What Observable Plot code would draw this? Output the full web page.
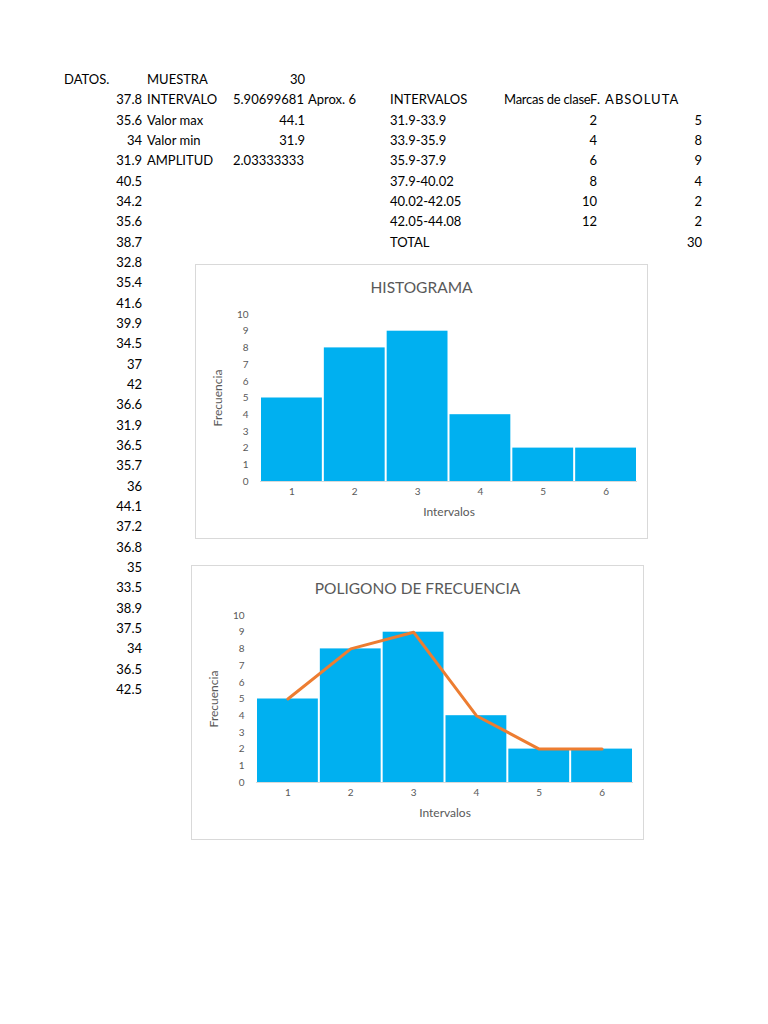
<!DOCTYPE html>
<html>
<head>
<meta charset="utf-8">
<script src="https://cdn.jsdelivr.net/npm/d3@7"></script>
<script src="https://cdn.jsdelivr.net/npm/@observablehq/plot@0.6"></script>
<style>
  html, body { margin: 0; padding: 0; background: #ffffff; }
  body { width: 768px; height: 1024px; position: relative; font-family: "Lato", sans-serif; color: #000; }
  .cell { position: absolute; font-size: 13px; line-height: 20px; white-space: nowrap; }
  .r { text-align: right; }
  .box { position: absolute; width: 453px; height: 275px; border: 1px solid #d9d9d9; box-sizing: border-box; background: #fff; }
  .box .title { position: absolute; left: 0; right: 0; top: 13px; text-align: center; font-size: 15.5px; color: #595959; font-family: "Lato", sans-serif; }
  .box svg { position: absolute; left: -1px; top: 29px; max-width: none !important; }
</style>
</head>
<body>
<div id="sheet"></div>
<script>
// Raw sample (column DATOS.)
const datos = [37.8, 35.6, 34, 31.9, 40.5, 34.2, 35.6, 38.7, 32.8, 35.4, 41.6, 39.9, 34.5, 37, 42,
  36.6, 31.9, 36.5, 35.7, 36, 44.1, 37.2, 36.8, 35, 33.5, 38.9, 37.5, 34, 36.5, 42.5];

// Summary block
const resumenEtiquetas = ["INTERVALO", "Valor max", "Valor min", "AMPLITUD"];
const resumenValores = ["5.90699681", "44.1", "31.9", "2.03333333"];
const muestra = 30;

// Frequency table
const intervalos = ["31.9-33.9", "33.9-35.9", "35.9-37.9", "37.9-40.02", "40.02-42.05", "42.05-44.08"];
const marcas = [2, 4, 6, 8, 10, 12];
const frecuencias = [5, 8, 9, 4, 2, 2];
const categorias = [1, 2, 3, 4, 5, 6];
const ticksY = [0, 1, 2, 3, 4, 5, 6, 7, 8, 9, 10];

const tabla = categorias.map((c, i) => ({categoria: c, frecuencia: frecuencias[i]}));

// ---- spreadsheet cells ----
const sheet = document.getElementById("sheet");
const ROW0 = 79, ROWH = 20.33;
function cell(text, row, x, align, spacing) {
  const d = document.createElement("div");
  d.className = "cell" + (align === "right" ? " r" : "");
  d.textContent = text;
  const top = ROW0 + row * ROWH - 10;
  d.style.top = top + "px";
  if (spacing) d.style.letterSpacing = spacing + "px";
  if (align === "right") { d.style.right = (768 - x) + "px"; }
  else { d.style.left = x + "px"; }
  sheet.appendChild(d);
}

cell("DATOS.", 0, 64);
cell("MUESTRA", 0, 147);
cell(String(muestra), 0, 305, "right");
datos.forEach((v, i) => cell(String(v), i + 1, 142, "right"));
resumenEtiquetas.forEach((t, i) => cell(t, i + 1, 147));
resumenValores.forEach((t, i) => {
  if (i === 0 || i === 3) cell(t, i + 1, 233);
  else cell(t, i + 1, 305, "right");
});
cell("Aprox. 6", 1, 308);

cell("INTERVALOS", 1, 390);
cell("Marcas de clase", 1, 504, null, -0.25);
cell("F. ABSOLUTA", 1, 590, null, 1.0);
intervalos.forEach((t, i) => cell(t, i + 2, 390));
marcas.forEach((m, i) => cell(String(m), i + 2, 597, "right"));
frecuencias.forEach((f, i) => cell(String(f), i + 2, 702, "right"));
cell("TOTAL", 8, 390);
cell(String(d3.sum(frecuencias)), 8, 702, "right");

// ---- charts ----
function grafico(conLinea) {
  const svg = Plot.plot({
    width: 453,
    height: 245,
    marginTop: 20,
    marginLeft: 65,
    marginRight: 11,
    marginBottom: 58,
    style: {fontFamily: "Lato, sans-serif", fontSize: "10px", color: "#595959", background: "transparent", overflow: "visible"},
    x: {type: "band", domain: categorias, padding: 0, round: false, label: "Intervalos", labelAnchor: "center", labelOffset: 34, tickSize: 0, tickPadding: 6, labelArrow: "none"},
    y: {domain: [0, 10], ticks: ticksY, label: "Frecuencia", labelAnchor: "center", labelOffset: 47, tickSize: 0, tickPadding: 12, labelArrow: "none"},
    marks: [
      Plot.ruleY([0], {stroke: "#d9d9d9"}),
      Plot.barY(tabla, {x: "categoria", y: "frecuencia", fill: "#00b0f0", insetLeft: 1, insetRight: 1}),
      conLinea ? Plot.lineY(tabla, {x: "categoria", y: "frecuencia", stroke: "#ed7d31", strokeWidth: 3}) : null
    ]
  });
  svg.querySelectorAll("text").forEach(n => n.setAttribute("fill", "#595959"));
  svg.querySelectorAll('[aria-label="x-axis label"], [aria-label="y-axis label"]').forEach(g => g.setAttribute("font-size", "12px"));
  return svg;
}

function caja(titulo, left, top, conLinea) {
  const b = document.createElement("div");
  b.className = "box";
  b.style.left = left + "px";
  b.style.top = top + "px";
  const t = document.createElement("div");
  t.className = "title";
  t.textContent = titulo;
  b.appendChild(t);
  b.appendChild(grafico(conLinea));
  document.body.appendChild(b);
}

caja("HISTOGRAMA", 195, 264, false);
caja("POLIGONO DE FRECUENCIA", 191, 565, true);
</script>
</body>
</html>
